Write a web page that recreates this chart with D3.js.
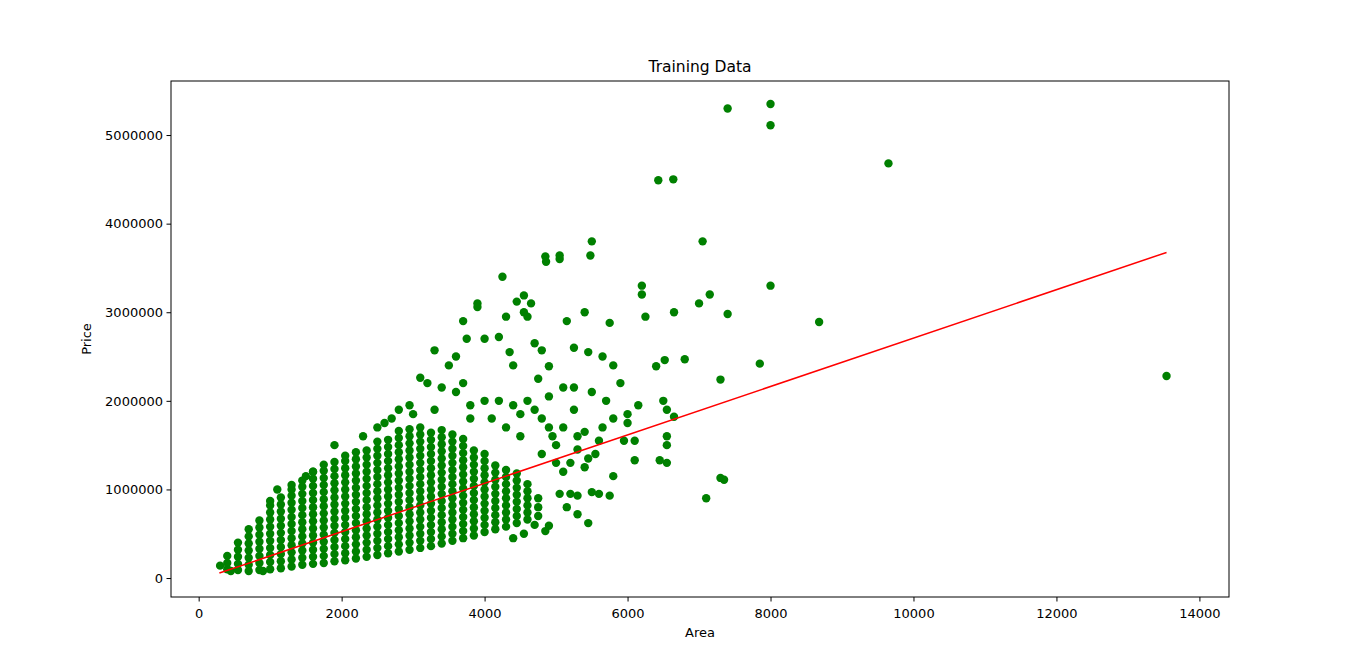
<!DOCTYPE html>
<html>
<head>
<meta charset="utf-8">
<script src="https://cdn.jsdelivr.net/npm/d3@7"></script>
<style>
  body { margin: 0; background: #fff; }
  text { font-family: "DejaVu Sans", sans-serif; }
</style>
</head>
<body>
<svg id="chart" width="1366" height="671"></svg>
<script>
// dense core: [area, [prices in thousands]]
const denseStrips = [
  [400, [100, 170, 250]],
  [550, [90, 160, 240, 320, 400]],
  [700, [80, 150, 230, 310, 390, 470, 550]],
  [850, [90, 170, 250, 330, 410, 490, 570, 650]],
  [1000, [100, 180, 260, 340, 420, 500, 580, 660, 740, 820]],
  [1150, [110, 190, 270, 350, 430, 510, 590, 670, 750, 830, 910]],
  [1300, [130, 210, 290, 370, 450, 530, 610, 690, 770, 850, 930, 1000]],
  [1450, [150, 230, 310, 390, 470, 550, 630, 710, 790, 870, 950, 1030, 1100]],
  [1600, [160, 240, 320, 400, 480, 560, 640, 720, 800, 880, 960, 1040, 1120, 1200]],
  [1750, [170, 250, 330, 410, 490, 570, 650, 730, 810, 890, 970, 1050, 1130, 1210, 1280]],
  [1900, [190, 270, 350, 430, 510, 590, 670, 750, 830, 910, 990, 1070, 1150, 1230, 1310]],
  [2050, [200, 280, 360, 440, 520, 600, 680, 760, 840, 920, 1000, 1080, 1160, 1240, 1320, 1380]],
  [2200, [220, 300, 380, 460, 540, 620, 700, 780, 860, 940, 1020, 1100, 1180, 1260, 1340, 1420]],
  [2350, [240, 320, 400, 480, 560, 640, 720, 800, 880, 960, 1040, 1120, 1200, 1280, 1360, 1440]],
  [2500, [260, 340, 420, 500, 580, 660, 740, 820, 900, 980, 1060, 1140, 1220, 1300, 1380, 1460, 1540]],
  [2650, [280, 360, 440, 520, 600, 680, 760, 840, 920, 1000, 1080, 1160, 1240, 1320, 1400, 1480, 1560]],
  [2800, [300, 380, 460, 540, 620, 700, 780, 860, 940, 1020, 1100, 1180, 1260, 1340, 1420, 1500, 1580, 1660]],
  [2950, [320, 400, 480, 560, 640, 720, 800, 880, 960, 1040, 1120, 1200, 1280, 1360, 1440, 1520, 1600, 1680]],
  [3100, [340, 420, 500, 580, 660, 740, 820, 900, 980, 1060, 1140, 1220, 1300, 1380, 1460, 1540, 1620, 1700]],
  [3250, [360, 440, 520, 600, 680, 760, 840, 920, 1000, 1080, 1160, 1240, 1320, 1400, 1480, 1560, 1640]],
  [3400, [390, 470, 550, 630, 710, 790, 870, 950, 1030, 1110, 1190, 1270, 1350, 1430, 1510, 1590, 1670]],
  [3550, [420, 500, 580, 660, 740, 820, 900, 980, 1060, 1140, 1220, 1300, 1380, 1460, 1540, 1620]],
  [3700, [450, 530, 610, 690, 770, 850, 930, 1010, 1090, 1170, 1250, 1330, 1410, 1490, 1570]],
  [3850, [480, 560, 640, 720, 800, 880, 960, 1040, 1120, 1200, 1280, 1360, 1440]],
  [4000, [520, 600, 680, 760, 840, 920, 1000, 1080, 1160, 1240, 1320, 1400]],
  [4150, [550, 630, 710, 790, 870, 950, 1030, 1110, 1190, 1270]],
  [4300, [580, 660, 740, 820, 900, 980, 1060, 1140, 1220]],
  [4450, [620, 700, 780, 860, 940, 1020, 1100, 1180]],
  [4600, [660, 740, 820, 900, 980, 1060]],
  [4750, [700, 800, 900]]
]

// scattered points: [area, price in thousands]
const sparsePoints = [
  [7400,5300],[8000,5350],[8000,5110],[9650,4680],[6430,4490],[6640,4500],[7050,3800],[5500,3800],
  [5480,3640],[4850,3630],[5050,3640],[5050,3600],[4860,3570],[4250,3400],[8000,3300],[6200,3300],
  [6200,3200],[7150,3200],[7000,3100],[7400,2980],[6650,3000],[6250,2950],[8680,2890],[5750,2880],
  [5150,2900],[5400,3000],[4300,2950],[4450,3120],[4550,3190],[4650,3100],[3900,3100],[3900,3060],
  [3700,2900],[4550,3000],[4600,2950],[4000,2700],[4200,2720],[3750,2700],[3300,2570],[4700,2650],
  [4800,2570],[5250,2600],[5450,2550],[5650,2500],[5800,2400],[6400,2390],[6520,2460],[6800,2470],
  [7850,2420],[7300,2240],[13540,2280],[5900,2200],[4350,2550],[4400,2400],[3500,2400],[3600,2500],
  [3100,2260],[2950,1950],[4900,2390],[5250,2150],[5100,2150],[5500,2100],[5250,1900],[5700,2000],
  [6500,2000],[6150,1950],[6650,1820],[6550,1900],[6000,1850],[5650,1700],[6000,1750],[5950,1550],
  [6100,1550],[6550,1600],[6550,1500],[6450,1330],[6550,1300],[6100,1330],[5800,1150],[5550,1400],
  [5400,1250],[5450,1350],[5100,1200],[5200,1300],[5050,950],[5200,950],[5300,930],[5500,970],
  [5600,950],[5750,930],[5450,620],[5300,720],[5150,800],[4900,590],[4850,530],[4700,600],
  [4550,500],[4400,450],[7300,1130],[7350,1110],[7100,900],[5000,1500],[5300,1600],[5400,1650],
  [4900,1700],[4800,1800],[4700,1900],[4600,2000],[4500,1850],[4400,1950],[4200,2000],[4000,2000],
  [3800,1950],[3600,2100],[3400,2150],[3300,1900],[3000,1850],[2800,1900],[2700,1800],[2500,1700],
  [2300,1600],[1900,1500],[1600,1200],[1500,1150],[1000,870],[4750,2250],[4900,2050],[4950,1600],
  [5100,1700],[5600,1550],[5800,1800],[2600,1750],[3200,2200],[3700,2200],[3800,1800],[4100,1800],
  [4300,1700],[4500,1600],[4800,1400],[5000,1300],[5300,1450],[300,140],[450,80],[900,80],
  [1100,1000],[1300,1050]
]

// fitted line endpoints [area, price]
const fitLine = [[290, 56000], [13540, 3675000]]

const xTicks = [0, 2000, 4000, 6000, 8000, 10000, 12000, 14000]
const yTicks = [0, 1000000, 2000000, 3000000, 4000000, 5000000]

const points = []
denseStrips.forEach(([a, ps]) => ps.forEach(p => points.push([a, p * 1000])))
sparsePoints.forEach(([a, p]) => points.push([a, p * 1000]))

const svg = d3.select('#chart')
const margin = { top: 81, right: 137, bottom: 74, left: 171 }
const width = 1366, height = 671

const x = d3.scaleLinear().domain([-387, 14414]).range([margin.left, width - margin.right])
const y = d3.scaleLinear().domain([-214000, 5610000]).range([height - margin.bottom, margin.top])

svg.append('g').selectAll('circle')
  .data(points)
  .join('circle')
  .attr('cx', d => x(d[0]))
  .attr('cy', d => y(d[1]))
  .attr('r', 4.2)
  .attr('fill', '#008000')

svg.append('path')
  .attr('d', d3.line().x(d => x(d[0])).y(d => y(d[1]))(fitLine))
  .attr('stroke', '#ff0000')
  .attr('stroke-width', 1.5)
  .attr('fill', 'none')

// frame
svg.append('rect')
  .attr('x', margin.left).attr('y', margin.top)
  .attr('width', width - margin.left - margin.right)
  .attr('height', height - margin.top - margin.bottom)
  .attr('fill', 'none').attr('stroke', '#000').attr('stroke-width', 1)

const xAxis = d3.axisBottom(x).tickValues(xTicks).tickFormat(d3.format('d')).tickSize(4.5).tickSizeOuter(0)
const yAxis = d3.axisLeft(y).tickValues(yTicks).tickFormat(d3.format('d')).tickSize(4.5).tickSizeOuter(0)

const gx = svg.append('g').attr('transform', `translate(0, ${height - margin.bottom})`).call(xAxis)
const gy = svg.append('g').attr('transform', `translate(${margin.left}, 0)`).call(yAxis)
;[gx, gy].forEach(g => {
  g.select('.domain').remove()
  g.selectAll('text').attr('font-size', 13).attr('fill', '#000')
  g.selectAll('line').attr('stroke', '#000')
})
gx.selectAll('text').attr('dy', '1em')
gy.selectAll('text').attr('x', -8)

svg.append('text').attr('x', (margin.left + width - margin.right) / 2).attr('y', 72)
  .attr('text-anchor', 'middle').attr('font-size', 15.5).text('Training Data')
svg.append('text').attr('x', (margin.left + width - margin.right) / 2).attr('y', 637)
  .attr('text-anchor', 'middle').attr('font-size', 13).text('Area')
svg.append('text').attr('transform', 'translate(91, 339) rotate(-90)')
  .attr('text-anchor', 'middle').attr('font-size', 13).text('Price')
</script>
</body>
</html>
